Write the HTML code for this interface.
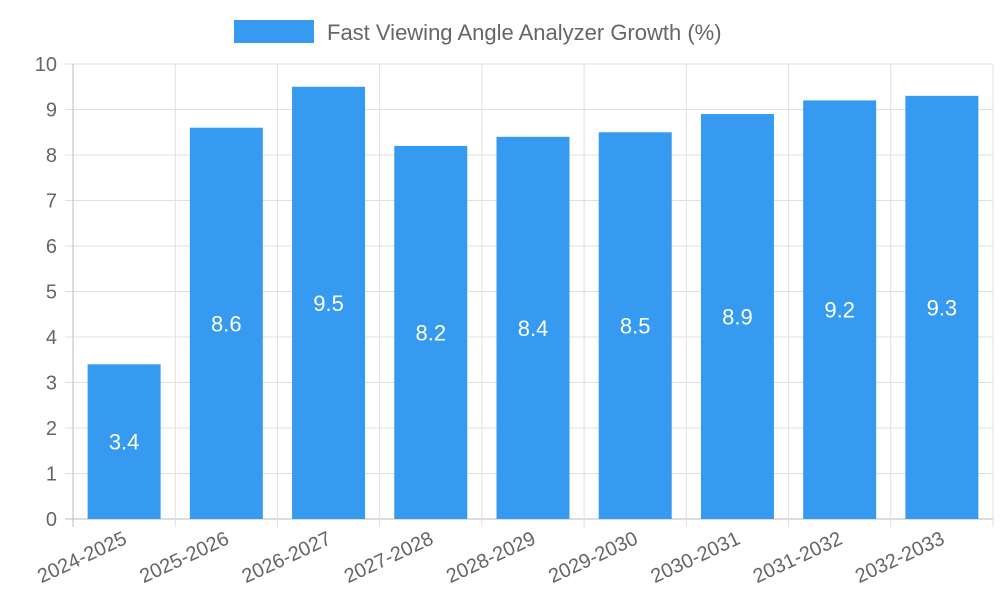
<!DOCTYPE html>
<html><head><meta charset="utf-8"><style>
body{margin:0;background:#fff;font-family:"Liberation Sans",sans-serif}
svg text{font-family:"Liberation Sans",sans-serif}
</style></head><body>
<svg id="chart" width="1000" height="600">
<g>
<rect x="234" y="20" width="80" height="23" fill="#369bf0"/>
<text x="327" y="40" font-size="22" fill="#666">Fast Viewing Angle Analyzer Growth (%)</text>
</g>
<g id="grid"></g><g id="bars"></g><g id="labels"></g>
</svg>
<script>
const categories=["2024-2025","2025-2026","2026-2027","2027-2028","2028-2029","2029-2030","2030-2031","2031-2032","2032-2033"];
const values=[3.4,8.6,9.5,8.2,8.4,8.5,8.9,9.2,9.3];
const yTicks=[0,1,2,3,4,5,6,7,8,9,10];
const NS="http://www.w3.org/2000/svg";
const L=73,R=993,T=64,B=519,yMax=10;
const bw=(R-L)/categories.length;
const y=v=>B-(v/yMax)*(B-T);
const x=i=>L+i*bw;
function mk(tag,attrs,parent){const e=document.createElementNS(NS,tag);for(const k in attrs)e.setAttribute(k,attrs[k]);parent.appendChild(e);return e;}
const grid=document.getElementById('grid'),bars=document.getElementById('bars'),labels=document.getElementById('labels');
yTicks.forEach(t=>{
 const ln=mk('line',{x1:L-8,x2:R,y1:y(t),y2:y(t),stroke:t===0?'#bbb':'#e0e0e0','stroke-width':1},grid);
 
 
 const tx=mk('text',{x:L-16,y:y(t)+7,'text-anchor':'end','font-size':20,fill:'#666'},grid);
 tx.textContent=t;
 
 
});
for(let i=0;i<=categories.length;i++){
 const ln=mk('line',{x1:x(i),x2:x(i),y1:T,y2:B+8,stroke:i===0?'#bbb':'#e0e0e0','stroke-width':1},grid);
 
 
}
categories.forEach((c,i)=>{
 const cx=x(i)+bw/2,w=73;
 const r=mk('rect',{x:cx-w/2,y:y(values[i]),width:w,height:B-y(values[i]),fill:'#369bf0'},bars);
 
 
 const v=mk('text',{x:cx,y:(y(values[i])+B)/2+8,'text-anchor':'middle','font-size':22,fill:'#fff'},labels);
 v.textContent=values[i];
 
 
 const t=mk('text',{x:cx+4,y:B+24,'text-anchor':'end','font-size':20,fill:'#666',transform:`rotate(-25 ${cx+4} ${B+24})`},labels);
 t.textContent=c;
 
 
});
</script>
</body></html>
